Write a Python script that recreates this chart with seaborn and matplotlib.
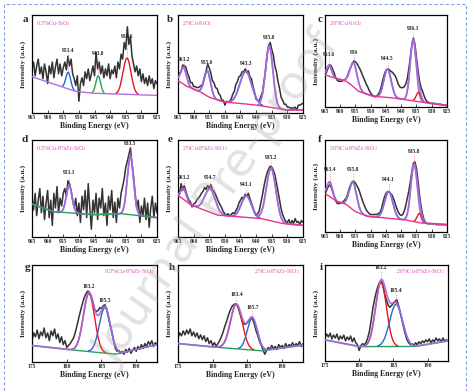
import numpy as np
import matplotlib
matplotlib.use("Agg")
import matplotlib.pyplot as plt
import matplotlib.patches as patches
import seaborn as sns

# energie eksenleri (okuma aralıkları)
cu_energy = np.arange(965, 924.9, -0.5)   # Cu 2p, 965 -> 925 eV
zr_energy = np.arange(175, 193.01, 0.25)  # Zr 3d, 175 -> 193 eV

# ---- ölçülen spektrumlar (göz kararı okunmuş, eksen 0-100) ----
a_counts = [45, 52, 38, 48, 55, 40, 47, 35, 50, 42, 30, 48, 40, 52, 36,
            47, 55, 40, 50, 38, 46, 52, 44, 58, 48, 55, 40,
            35, 28, 38, 12, 30, 36, 28, 42, 35, 45, 33, 40,
            48, 38, 62, 45, 52, 40, 48, 36,
            45, 38, 50, 35, 44, 40, 48, 36,
            52, 45, 60, 55, 72, 65, 88, 70, 78, 58,
            50, 42, 48, 38, 45, 32, 40, 30, 36, 28, 38, 30, 35, 25, 33, 30]
b_counts = [36, 41, 42, 49, 48, 47, 41, 37, 31, 31,
            27, 27, 26, 26, 27, 28, 30, 37, 43, 50,
            46, 41, 33, 31, 26, 25, 20, 18, 13, 13,
            8, 12, 11, 12, 14, 19, 22, 29, 32, 37,
            38, 42, 42, 45, 42, 43, 37, 35, 27, 21,
            14, 13, 12, 17, 21, 32, 43, 59, 69, 72,
            65, 59, 48, 42, 32, 25, 16, 13, 9, 9,
            6, 6, 5, 5, 5, 6, 3, 8, 8, 9, 10]
c_counts = [35, 38, 42, 46, 45, 41, 37, 32, 29, 28,
            28, 28, 29, 30, 31, 35, 40, 44, 48, 50,
            49, 47, 44, 41, 37, 33, 29, 25, 22, 18,
            15, 13, 12, 11, 12, 14, 17, 23, 30, 36,
            40, 41, 41, 39, 38, 36, 34, 30, 25, 22,
            21, 21, 22, 25, 31, 42, 55, 67, 75, 68,
            53, 40, 28, 21, 17, 12, 8, 6, 5, 4,
            4, 4, 4, 3, 3, 3, 3, 2, 2, 2, 2]
d_counts = [40, 28, 45, 22, 38, 50, 25, 42, 18, 35,
            48, 20, 38, 12, 45, 30, 52, 25, 40, 32,
            45, 50, 42, 58, 55, 48, 38, 30, 40, 22,
            35, 15, 42, 28, 48, 20, 55, 30, 8, 38,
            25, 45, 18, 40, 30, 50, 22, 35, 12, 42,
            28, 48, 20, 36, 15, 40, 30, 45, 52, 60,
            72, 78, 85, 92, 75, 62, 45, 30, 38, 15,
            32, 22, 40, 18, 35, 10, 30, 42, 20, 35, 25]
e_counts = [50, 44, 55, 48, 53, 47, 42, 38, 36, 31,
            34, 35, 38, 40, 42, 45, 47, 51, 49, 53,
            50, 54, 49, 47, 44, 40, 36, 33, 30, 26,
            24, 22, 24, 22, 23, 25, 24, 27, 30, 35,
            38, 41, 39, 44, 42, 45, 40, 35, 30, 25,
            22, 24, 27, 35, 43, 52, 60, 66, 70, 73,
            72, 69, 64, 56, 47, 38, 29, 23, 19, 16,
            15, 18, 13, 17, 14, 19, 15, 16, 13, 17, 15]
f_counts = [42, 45, 49, 51, 49, 44, 39, 34, 31, 31,
            31, 32, 33, 35, 37, 42, 48, 52, 55, 55,
            53, 50, 47, 42, 37, 32, 28, 24, 22, 20,
            19, 19, 19, 19, 19, 20, 21, 25, 32, 38,
            42, 44, 44, 42, 40, 36, 31, 26, 22, 19,
            18, 19, 23, 29, 37, 45, 55, 66, 75, 76,
            69, 55, 40, 28, 19, 13, 10, 9, 9, 9,
            9, 9, 9, 8, 8, 8, 8, 8, 8, 8, 8]
g_counts = [22, 30, 26, 33, 24, 31, 27, 35, 25, 30,
            22, 32, 27, 34, 24, 29, 20, 26, 18, 22,
            15, 17, 19, 22, 25, 31, 38, 46, 53, 60,
            66, 70, 73, 72, 68, 62, 54, 52, 53, 56,
            55, 58, 59, 55, 46, 38, 31, 22, 14, 11,
            12, 9, 11, 8, 13, 10, 14, 9, 12, 15,
            11, 16, 13, 18, 14, 19, 16, 21, 18, 22,
            16, 20, 18]
h_counts = [25, 30, 27, 32, 28, 33, 29, 34, 27, 31,
            26, 30, 24, 28, 23, 27, 21, 25, 19, 22,
            17, 20, 16, 19, 22, 26, 31, 37, 42, 48,
            53, 57, 59, 60, 59, 54, 48, 42, 39, 39,
            41, 43, 45, 44, 39, 32, 27, 21, 17, 12,
            8, 12, 15, 13, 17, 14, 16, 13, 18, 15,
            17, 14, 19, 15, 18, 16, 20, 16, 19, 17,
            21, 16, 19]
i_counts = [24, 28, 25, 29, 23, 27, 24, 28, 22, 26,
            23, 27, 21, 25, 22, 26, 20, 24, 19, 17,
            11, 16, 18, 17, 19, 24, 31, 42, 55, 64,
            72, 78, 82, 83, 78, 69, 63, 58, 56, 58,
            60, 62, 64, 58, 51, 43, 35, 28, 22, 19,
            17, 18, 16, 19, 17, 20, 18, 21, 19, 22,
            20, 23, 19, 22, 20, 24, 21, 23, 20, 24,
            21, 22, 21]

# ---- arka plan (Shirley) düğümleri ----
a_bg_e, a_bg_i = [965, 951, 945, 925], [37, 22, 20, 18]
b_bg_e, b_bg_i = [965, 962, 957.5, 955, 950, 942.5, 938.5, 930, 925], [33, 27, 21, 16, 11, 9, 7.5, 3, 3]
c_bg_e, c_bg_i = [965, 961, 958, 956, 954, 949, 942, 934.5, 925], [35, 30.7, 28, 23, 17, 11.5, 9.7, 6, 1.4]
d_bg_e, d_bg_i = [965, 958, 945, 936, 925], [34, 26, 23, 24, 20]
e_bg_e, e_bg_i = [965, 960.7, 956.4, 952.2, 944.7, 938.3, 931.3, 925], [43, 32.8, 27.6, 22.4, 20.7, 19, 13.8, 12]
f_bg_e, f_bg_i = [965, 961, 958, 955, 951, 944.7, 938.3, 933.4, 925], [42, 33, 30, 22, 17, 15, 13, 9.7, 8]
g_bg_e, g_bg_i = [175, 180, 187, 193], [17, 13, 8, 18]
h_bg_e, h_bg_i = [175, 180, 187, 193], [19, 15.5, 11.5, 17.5]
i_bg_e, i_bg_i = [175, 180, 188, 193], [22, 15, 15, 21]

# ---- fit bileşenleri: merkez, yükseklik, FWHM ----
a_centres, a_heights, a_fwhm = [953.4, 943.8, 934.6], [17, 18, 37], [1.8, 1.8, 3.0]
b_centres, b_heights, b_fwhm = [963.2, 955.6, 943.3, 935.8], [17, 26, 33, 62], [2.2, 2.4, 4.5, 2.8]
c_centres, c_heights, c_fwhm = [963.6, 955.6, 944.5, 936.1, 934.3], [12, 26, 31, 66, 10], [1.8, 2.8, 2.8, 2.3, 1.8]
d_centres, d_heights, d_fwhm = [953.1, 933.5], [28, 60], [2.2, 2.4]
e_centres, e_heights, e_fwhm = [963.2, 954.7, 943.1, 935.2], [11, 24, 22, 54], [2.0, 4.0, 3.8, 3.6]
f_centres, f_heights, f_fwhm = [963.4, 955.8, 944.1, 935.8, 934.0], [16, 30, 29, 62, 10], [2.0, 2.8, 3.2, 2.5, 1.8]
g_centres, g_heights, g_fwhm = [183.2, 185.5], [60, 47], [1.9, 1.9]
h_centres, h_heights, h_fwhm = [183.4, 185.7], [46, 33], [2.0, 1.7]
i_centres, i_heights, i_fwhm = [183.2, 185.4], [67, 44], [1.9, 2.2]

# etiketler
a_labels = ["953.4", "943.8", "934.6"]
b_labels = ["963.2", "955.6", "943.3", "935.8"]
c_labels = ["963.6", "956", "944.5", "936.1", None]
d_labels = ["953.1", "933.5"]
e_labels = ["963.2", "954.7", "943.1", "935.2"]
f_labels = ["963.4", "955.8", "944.1", "935.8", None]
g_labels = ["183.2", "185.5"]
h_labels = ["183.4", "185.7"]
i_labels = ["183.2", "185.4"]

titles = ["0.5%Cu-SiO$_2$", "2%Cu-SiO$_2$", "20%Cu-SiO$_2$",
          "0.5%Cu-8%Zr-SiO$_2$", "2%Cu-8%Zr-SiO$_2$", "20%Cu-8%Zr-SiO$_2$",
          "0.5%Cu-8%Zr-SiO$_2$", "2%Cu-8%Zr-SiO$_2$", "20%Cu-8%Zr-SiO$_2$"]

DATA = '#333333'
ENV = '#a468dc'
PINK = '#e8348c'
GREEN = '#2aa05a'
BLUE = '#2466d6'
RED = '#e8161a'
PUR = '#b070e0'

sns.set_theme(style="ticks")
plt.rcParams['font.family'] = ['Liberation Serif', 'DejaVu Serif']
plt.rcParams['mathtext.fontset'] = 'stix'

W, H = 474, 391
fig = plt.figure(figsize=(4.74, 3.91), dpi=100)
fig.patch.set_facecolor('white')

panels = [
    dict(box=(32, 15, 157, 113), L='a', x=cu_energy, y=a_counts, be=a_bg_e, bi=a_bg_i, bc=PUR,
         pc=a_centres, ph=a_heights, pw=a_fwhm, col=[BLUE, GREEN, RED], lab=a_labels, env=False, off=20),
    dict(box=(178, 15, 303, 113), L='b', x=cu_energy, y=b_counts, be=b_bg_e, bi=b_bg_i, bc=PINK,
         pc=b_centres, ph=b_heights, pw=b_fwhm, col=[PUR, BLUE, BLUE, PUR], lab=b_labels, env=True, off=6),
    dict(box=(325, 15, 447, 107), L='c', x=cu_energy, y=c_counts, be=c_bg_e, bi=c_bg_i, bc=PINK,
         pc=c_centres, ph=c_heights, pw=c_fwhm, col=[PUR, PUR, BLUE, PUR, RED], lab=c_labels, env=True, off=9),
    dict(box=(32, 140, 157, 237), L='d', x=cu_energy, y=d_counts, be=d_bg_e, bi=d_bg_i, bc=GREEN,
         pc=d_centres, ph=d_heights, pw=d_fwhm, col=[PUR, PUR], lab=d_labels, env=True, off=11),
    dict(box=(178, 140, 303, 237), L='e', x=cu_energy, y=e_counts, be=e_bg_e, bi=e_bg_i, bc=PINK,
         pc=e_centres, ph=e_heights, pw=e_fwhm, col=[PUR, PUR, BLUE, PUR], lab=e_labels, env=True, off=9),
    dict(box=(325, 140, 447, 232), L='f', x=cu_energy, y=f_counts, be=f_bg_e, bi=f_bg_i, bc=PINK,
         pc=f_centres, ph=f_heights, pw=f_fwhm, col=[PUR, GREEN, BLUE, PUR, RED], lab=f_labels, env=True, off=11),
    dict(box=(32, 265, 157, 362), L='g', x=zr_energy, y=g_counts, be=g_bg_e, bi=g_bg_i, bc=GREEN,
         pc=g_centres, ph=g_heights, pw=g_fwhm, col=[RED, BLUE], lab=g_labels, env=True, off=4),
    dict(box=(178, 265, 303, 362), L='h', x=zr_energy, y=h_counts, be=h_bg_e, bi=h_bg_i, bc=GREEN,
         pc=h_centres, ph=h_heights, pw=h_fwhm, col=[RED, BLUE], lab=h_labels, env=True, off=7),
    dict(box=(325, 265, 448, 361), L='i', x=zr_energy, y=i_counts, be=i_bg_e, bi=i_bg_i, bc=GREEN,
         pc=i_centres, ph=i_heights, pw=i_fwhm, col=[RED, BLUE], lab=i_labels, env=True, off=10),
]


def gauss(x, c, h, w):
    s = w / 2.3548
    return h * np.exp(-(x - c) ** 2 / (2 * s * s))


for k, p in enumerate(panels):
    l, t, r, b = p['box']
    ax = fig.add_axes([l / W, 1 - b / H, (r - l) / W, (b - t) / H])
    zr = p['x'][0] < 500
    x = np.asarray(p['x'], float)
    xf = np.linspace(x.min(), x.max(), 800)
    be = np.asarray(p['be'], float)
    bi = np.asarray(p['bi'], float)
    order = np.argsort(be)
    base = np.interp(xf, be[order], bi[order])

    sns.lineplot(x=x, y=p['y'], ax=ax, color=DATA, linewidth=1.1, zorder=2)
    # Cu panellerinde arka plan çizgisi üstte, Zr panellerinde zarfın altında
    ax.plot(xf, base, color=p['bc'], lw=1.0, zorder=3 if zr else 6)
    env = base.copy()
    comps = []
    for c, h, w, col in zip(p['pc'], p['ph'], p['pw'], p['col']):
        g = gauss(xf, c, h, w)
        env = env + g
        comps.append((np.where(g > 0.6, base + g, np.nan), col))
    for curve, col in comps:
        ax.plot(xf, curve, color=col, lw=1.0, zorder=4)
    if p['env']:
        ax.plot(xf, env, color=ENV, lw=1.3, alpha=0.9, zorder=5)

    for c, txt in zip(p['pc'], p['lab']):
        if txt is None:
            continue
        top = np.interp(c, xf, env)
        ytxt = top + p['off']
        ax.plot([c, c], [top + 1, ytxt - 0.5], color='#e070b0', lw=0.6, ls=':', zorder=7)
        ax.text(c, ytxt, txt, fontsize=4, fontweight='bold', ha='center', va='bottom', zorder=8)

    if zr:
        ax.set_xlim(175, 193)
        ax.set_xticks([175, 180, 185, 190])
        ax.text(0.98, 0.93, titles[k], transform=ax.transAxes, color='#e050b8',
                fontsize=4.3, ha='right', va='center')
    else:
        ax.set_xlim(965, 925)
        ax.set_xticks(np.arange(965, 924, -5))
        ax.text(0.03, 0.91, titles[k], transform=ax.transAxes, color='#e050b8',
                fontsize=4.3, ha='left', va='center')
    ax.set_ylim(0, 100)
    ax.set_yticks([])
    ax.set_xlabel("Binding Energy (eV)", fontsize=5.6, fontweight='bold', labelpad=1.5)
    ax.set_ylabel("Intensity (a.u.)", fontsize=5.4, fontweight='bold', labelpad=4)
    ax.tick_params(axis='x', direction='in', length=2, width=0.6, labelsize=4, pad=1.5)
    for lbl in ax.get_xticklabels():
        lbl.set_fontweight('bold')
    for s in ax.spines.values():
        s.set_linewidth(0.9)
        s.set_color('black')

letters = [('a', 25, 20), ('b', 170, 20), ('c', 320, 20),
           ('d', 25, 140), ('e', 170, 140), ('f', 320, 140),
           ('g', 28, 268), ('h', 172, 268), ('i', 321, 268)]
for ch, lx, ly in letters:
    fig.text(lx / W, 1 - ly / H, ch, fontsize=8, fontweight='bold', ha='center', va='center')

# kesikli mavi çerçeve
fig.add_artist(patches.Rectangle((4 / W, -0.01), (466 - 4) / W, 1 - 4 / H + 0.01,
                                 transform=fig.transFigure, fill=False,
                                 ls=(0, (3, 2)), lw=0.8, ec='#86a3e3'))

# filigran
fig.text(0.46, 0.49, "Journal Pre-proof", rotation=55, fontsize=34, color='#a0a0a0',
         alpha=0.3, ha='center', va='center', family=['DejaVu Sans'], zorder=10)

fig.savefig("out.png", dpi=100)
